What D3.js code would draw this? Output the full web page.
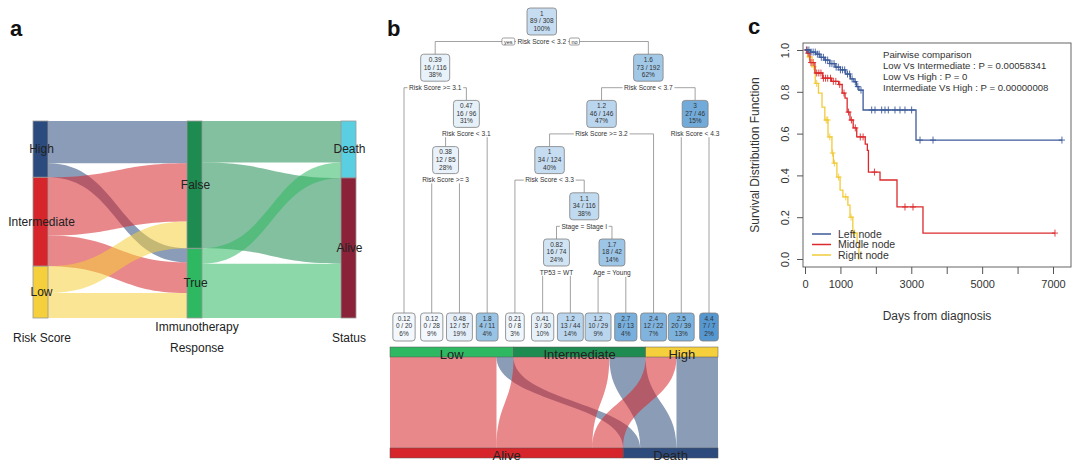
<!DOCTYPE html>
<html>
<head>
<meta charset="utf-8">
<script src="https://cdn.jsdelivr.net/npm/d3@7"></script>
<style>
  body { margin: 0; background: #fff; }
</style>
</head>
<body>
<script>
// ---------- data ----------
// panel a: alluvial Risk Score -> Immunotherapy Response -> Status
const riskLevels = ["High", "Intermediate", "Low"];
const responseLevels = ["False", "True"];
const statusLevels = ["Death", "Alive"];
const riskToResponse = [
  ["High", "False", 66], ["High", "True", 22],
  ["Intermediate", "False", 91], ["Intermediate", "True", 48],
  ["Low", "False", 42], ["Low", "True", 39]
];
const responseToStatus = [
  ["False", "Death", 65], ["False", "Alive", 134],
  ["True", "Death", 24], ["True", "Alive", 85]
];

// panel b: regression tree (id, parent, rate, events / n, percent, split)
const treeNodes = [
  { id: "1", parent: "", rate: "1", ratio: "89 / 308", pct: "100%", split: "Risk Score < 3.2" },
  { id: "2", parent: "1", rate: "0.39", ratio: "16 / 116", pct: "38%", split: "Risk Score >= 3.1" },
  { id: "4", parent: "2", rate: "0.12", ratio: "0 / 20", pct: "6%" },
  { id: "5", parent: "2", rate: "0.47", ratio: "16 / 96", pct: "31%", split: "Risk Score < 3.1" },
  { id: "10", parent: "5", rate: "0.38", ratio: "12 / 85", pct: "28%", split: "Risk Score >= 3" },
  { id: "20", parent: "10", rate: "0.12", ratio: "0 / 28", pct: "9%" },
  { id: "21", parent: "10", rate: "0.48", ratio: "12 / 57", pct: "19%" },
  { id: "11", parent: "5", rate: "1.8", ratio: "4 / 11", pct: "4%" },
  { id: "3", parent: "1", rate: "1.6", ratio: "73 / 192", pct: "62%", split: "Risk Score < 3.7" },
  { id: "6", parent: "3", rate: "1.2", ratio: "46 / 146", pct: "47%", split: "Risk Score >= 3.2" },
  { id: "12", parent: "6", rate: "1", ratio: "34 / 124", pct: "40%", split: "Risk Score < 3.3" },
  { id: "24", parent: "12", rate: "0.21", ratio: "0 / 8", pct: "3%" },
  { id: "25", parent: "12", rate: "1.1", ratio: "34 / 116", pct: "38%", split: "Stage = Stage I" },
  { id: "50", parent: "25", rate: "0.82", ratio: "16 / 74", pct: "24%", split: "TP53 = WT" },
  { id: "100", parent: "50", rate: "0.41", ratio: "3 / 30", pct: "10%" },
  { id: "101", parent: "50", rate: "1.2", ratio: "13 / 44", pct: "14%" },
  { id: "51", parent: "25", rate: "1.7", ratio: "18 / 42", pct: "14%", split: "Age = Young" },
  { id: "102", parent: "51", rate: "1.2", ratio: "10 / 29", pct: "9%" },
  { id: "103", parent: "51", rate: "2.7", ratio: "8 / 13", pct: "4%" },
  { id: "13", parent: "6", rate: "2.4", ratio: "12 / 22", pct: "7%" },
  { id: "7", parent: "3", rate: "3", ratio: "27 / 46", pct: "15%", split: "Risk Score < 4.3" },
  { id: "14", parent: "7", rate: "2.5", ratio: "20 / 39", pct: "13%" },
  { id: "15", parent: "7", rate: "4.4", ratio: "7 / 7", pct: "2%" }
];

// panel b bottom: leaf groups -> status
const groupLevels = ["Low", "Intermediate", "High"];
const groupStatusLevels = ["Alive", "Death"];
const groupToStatus = [
  ["Low", "Alive", 100], ["Low", "Death", 16],
  ["Intermediate", "Alive", 90], ["Intermediate", "Death", 34],
  ["High", "Alive", 29], ["High", "Death", 39]
];

// panel c: Kaplan-Meier curves (step times, survival), censor times
const leftTimes = [0, 150, 300, 420, 560, 700, 850, 1000, 1150, 1280, 1380, 1450, 1520, 1640, 3133];
const leftSurv = [1, 0.99, 0.98, 0.965, 0.952, 0.935, 0.918, 0.905, 0.885, 0.862, 0.848, 0.825, 0.808, 0.713, 0.569];
const leftEnd = 7253;
const leftCensor = [60, 110, 170, 230, 290, 350, 400, 460, 520, 580, 640, 700, 760, 820, 880, 940, 1000, 1060,
  1120, 1200, 1260, 1330, 1420, 1490, 1580, 1882, 1976, 2164, 2258, 2352, 2540, 2681, 2822, 3010, 3246, 3613, 7253];

const middleTimes = [0, 60, 140, 280, 500, 750, 950, 1050, 1130, 1190, 1270, 1360, 1460, 1700, 1760, 1790, 2117, 2597, 3330];
const middleSurv = [1, 0.985, 0.94, 0.89, 0.865, 0.85, 0.835, 0.794, 0.77, 0.703, 0.665, 0.627, 0.584, 0.55, 0.52, 0.416, 0.378, 0.249, 0.124];
const middleEnd = 7056;
const middleCensor = [40, 90, 170, 230, 330, 390, 450, 520, 580, 640, 720, 800, 870, 980, 1100, 1230, 1310,
  1420, 1560, 1640, 1960, 2822, 3048, 7056];

const rightTimes = [0, 80, 200, 290, 380, 480, 560, 650, 760, 800, 900, 990, 1070, 1210, 1270, 1350, 1470, 1520];
const rightSurv = [1, 0.967, 0.92, 0.84, 0.794, 0.727, 0.665, 0.584, 0.507, 0.459, 0.392, 0.33, 0.297, 0.258, 0.2, 0.124, 0.077, 0];
const rightEnd = 1530;
const rightCensor = [120, 250, 330, 600, 640, 700, 780, 830, 950, 1150, 1300, 1400];

const pairwiseText = [
  "Pairwise comparison",
  "Low Vs Intermediate : P = 0.00058341",
  "Low Vs High : P = 0",
  "Intermediate Vs High : P = 0.00000008"
];
const xTicks = [0, 1000, 2000, 3000, 4000, 5000, 6000, 7000];
const xTickLabels = [0, 1000, 3000, 5000, 7000];
const yTicks = [0, 0.2, 0.4, 0.6, 0.8, 1.0];

// ---------- colours ----------
const colors = {
  High: "#2b4b7e", Intermediate: "#d7262b", Low: "#f6d03c",
  False: "#1e8c50", True: "#2fb862", Death: "#5acfe1", Alive: "#8a2339"
};
const groupColors = { Low: "#2fb862", Intermediate: "#1e8c50", High: "#f6d03c", Alive: "#d7262b", Death: "#2c4a7c" };

const svg = d3.select("body").append("svg")
  .attr("width", 1080).attr("height", 476)
  .style("font-family", "'Liberation Sans', Arial, sans-serif");
svg.append("rect").attr("width", 1080).attr("height", 476).attr("fill", "#fff");

// panel letters
[["a", 10, 36], ["b", 387, 36], ["c", 748, 34]].forEach(p => {
  svg.append("text").attr("x", p[1]).attr("y", p[2]).text(p[0])
    .attr("font-size", 22).attr("font-weight", "bold").attr("fill", "#111");
});

// ---------- band layout helper ----------
function bandLayout(links, srcLevels, tgtLevels) {
  const res = links.map(l => ({ source: l[0], target: l[1], value: l[2] }));
  const totals = (levels, key) => {
    let acc = 0; const out = {};
    levels.forEach(l => {
      const v = d3.sum(res.filter(r => r[key] === l), r => r.value);
      out[l] = { v0: acc, v1: acc + v }; acc += v;
    });
    return out;
  };
  const src = totals(srcLevels, "source"), tgt = totals(tgtLevels, "target");
  const sOff = {}, tOff = {};
  srcLevels.forEach(l => sOff[l] = src[l].v0);
  tgtLevels.forEach(l => tOff[l] = tgt[l].v0);
  res.slice().sort((a, b) => srcLevels.indexOf(a.source) - srcLevels.indexOf(b.source) ||
    tgtLevels.indexOf(a.target) - tgtLevels.indexOf(b.target))
    .forEach(r => { r.s0 = sOff[r.source]; sOff[r.source] += r.value; r.s1 = sOff[r.source]; });
  res.slice().sort((a, b) => tgtLevels.indexOf(a.target) - tgtLevels.indexOf(b.target) ||
    srcLevels.indexOf(a.source) - srcLevels.indexOf(b.source))
    .forEach(r => { r.t0 = tOff[r.target]; tOff[r.target] += r.value; r.t1 = tOff[r.target]; });
  return { src, tgt, links: res };
}

// ---------- panel a ----------
const aY = d3.scaleLinear().domain([0, 308]).range([121, 318]);
const aCols = { risk: 33, response: 187, status: 341 };
const aW = 15;
const gA = svg.append("g");

function drawBandsH(lay, x0, x1, colorKey) {
  const xm = (x0 + x1) / 2;
  gA.selectAll(null).data(lay.links).enter().append("path")
    .attr("d", d => {
      const s0 = aY(d.s0), s1 = aY(d.s1), t0 = aY(d.t0), t1 = aY(d.t1);
      return `M${x0},${s0}C${xm},${s0} ${xm},${t0} ${x1},${t0}L${x1},${t1}C${xm},${t1} ${xm},${s1} ${x0},${s1}Z`;
    })
    .attr("fill", d => colors[d[colorKey]]).attr("fill-opacity", 0.55);
}
const lay1 = bandLayout(riskToResponse, riskLevels, responseLevels);
const lay2 = bandLayout(responseToStatus, responseLevels, statusLevels);
drawBandsH(lay1, aCols.risk + aW, aCols.response, "source");
drawBandsH(lay2, aCols.response + aW, aCols.status, "source");

function drawNodesA(nodes, x) {
  Object.entries(nodes).forEach(([name, n]) => {
    gA.append("rect").attr("x", x).attr("y", aY(n.v0)).attr("width", aW)
      .attr("height", aY(n.v1) - aY(n.v0))
      .attr("fill", colors[name]).attr("stroke", "#9a9a9a").attr("stroke-width", 0.8);
  });
  Object.entries(nodes).forEach(([name, n]) => {
    gA.append("text").attr("x", x + aW / 2 + 1).attr("y", (aY(n.v0) + aY(n.v1)) / 2 + 4)
      .attr("text-anchor", "middle").attr("font-size", 12).attr("fill", "#222").text(name);
  });
}
drawNodesA(lay1.src, aCols.risk);
drawNodesA(lay1.tgt, aCols.response);
drawNodesA(lay2.tgt, aCols.status);

[["Risk Score", 42, 342], ["Immunotherapy", 197, 331], ["Response", 197, 352], ["Status", 349, 342]].forEach(t => {
  gA.append("text").attr("x", t[1]).attr("y", t[2]).attr("text-anchor", "middle")
    .attr("font-size", 12).attr("fill", "#222").text(t[0]);
});

// ---------- panel b: tree ----------
const gB = svg.append("g");
const root = d3.stratify().id(d => d.id).parentId(d => d.parent || null)(treeNodes);
const leafX = d3.scalePoint().domain(root.leaves().map(d => d.id)).range([404, 709]);
const depthY = d3.scaleLinear().domain([0, 5]).range([8, 239]);
const leafTop = 313, nodeH = 27;
root.eachAfter(d => {
  d.x = d.children ? d3.mean(d.children, c => c.x) : leafX(d.id);
  d.y = d.children ? depthY(d.depth) : leafTop;
});
const nodeFill = d3.scaleLinear()
  .domain([0, 0.5, 1.2, 1.7, 2.5, 4.4])
  .range(["#f7fbff", "#e4eff9", "#bad6ee", "#9cc5e6", "#7cb2de", "#5597d0"]);
const lineCol = "#8a8a8a";

// branches
root.descendants().filter(d => d.children).forEach(d => {
  const ly = d.y + nodeH + 6.5;
  gB.append("path")
    .attr("d", `M${d.children[0].x},${d.children[0].y}V${ly}H${d.children[1].x}V${d.children[1].y}`)
    .attr("fill", "none").attr("stroke", lineCol).attr("stroke-width", 0.8);
});
// split labels
root.descendants().filter(d => d.children).forEach(d => {
  const ly = d.y + nodeH + 6.5;
  const t = gB.append("text").attr("x", d.x).attr("y", ly + 2.3).attr("text-anchor", "middle")
    .attr("font-size", 6.6).attr("fill", "#333").text(d.data.split);
  const bb = t.node().getBBox();
  gB.insert("rect", "text").attr("x", bb.x - 1.5).attr("y", bb.y).attr("width", bb.width + 3)
    .attr("height", bb.height).attr("fill", "#fff");
  if (d.depth === 0) {
    [["yes", bb.x - 3, "end"], ["no", bb.x + bb.width + 3, "start"]].forEach(yn => {
      const tt = gB.append("text").attr("x", yn[2] === "end" ? yn[1] - 2 : yn[1] + 2).attr("y", ly + 2)
        .attr("text-anchor", yn[2]).attr("font-size", 5.5).attr("fill", "#333").text(yn[0]);
      const b2 = tt.node().getBBox();
      gB.insert("rect", "text").attr("x", b2.x - 2).attr("y", b2.y - 0.5).attr("width", b2.width + 4)
        .attr("height", b2.height + 1).attr("rx", 1.5).attr("fill", "#fff")
        .attr("stroke", "#777").attr("stroke-width", 0.7);
    });
  }
});
// nodes
root.descendants().forEach(d => {
  const g = gB.append("g").attr("transform", `translate(${d.x},${d.y})`);
  const lines = [d.data.rate, d.data.ratio, d.data.pct];
  const texts = lines.map((s, i) => g.append("text").attr("x", 0).attr("y", 7.8 + i * 7.6)
    .attr("text-anchor", "middle").attr("font-size", 6.5).attr("fill", "#333").text(s));
  const w = d3.max(texts, t => t.node().getComputedTextLength()) + 6;
  g.insert("rect", "text").attr("x", -w / 2).attr("y", 0).attr("width", w).attr("height", nodeH + (d.children ? 0 : 1))
    .attr("rx", 3).attr("fill", nodeFill(+d.data.rate)).attr("stroke", "#7f7f7f").attr("stroke-width", 0.8);
});

// ---------- panel b: bottom alluvial ----------
const bX = d3.scaleLinear().domain([0, 308]).range([390, 718]);
const topBar = [347, 357], botBar = [448, 458];
const lay3 = bandLayout(groupToStatus, groupLevels, groupStatusLevels);
const ym = (topBar[1] + botBar[0]) / 2;
gB.selectAll(null).data(lay3.links).enter().append("path")
  .attr("d", d => {
    const s0 = bX(d.s0), s1 = bX(d.s1), t0 = bX(d.t0), t1 = bX(d.t1), y0 = topBar[1], y1 = botBar[0];
    return `M${s0},${y0}C${s0},${ym} ${t0},${ym} ${t0},${y1}L${t1},${y1}C${t1},${ym} ${s1},${ym} ${s1},${y0}Z`;
  })
  .attr("fill", d => groupColors[d.target]).attr("fill-opacity", 0.55);

function drawBar(nodes, yy) {
  Object.entries(nodes).forEach(([name, n]) => {
    gB.append("rect").attr("x", bX(n.v0)).attr("y", yy[0]).attr("width", bX(n.v1) - bX(n.v0))
      .attr("height", yy[1] - yy[0]).attr("fill", groupColors[name])
      .attr("stroke", "#555").attr("stroke-width", 0.5);
  });
  Object.entries(nodes).forEach(([name, n]) => {
    gB.append("text").attr("x", (bX(n.v0) + bX(n.v1)) / 2).attr("y", yy[1] + 1.5)
      .attr("text-anchor", "middle").attr("font-size", 13).attr("fill", "#222").text(name);
  });
}
drawBar(lay3.src, topBar);
drawBar(lay3.tgt, botBar);

// ---------- panel c: survival ----------
const gC = svg.append("g");
const cx = d3.scaleLinear().domain([0, 7000]).range([805, 1053]);
const cy = d3.scaleLinear().domain([0, 1]).range([259, 50]);
const box = { x0: 803, x1: 1071, y0: 43, y1: 267 };

const curves = [
  { name: "Left node", times: leftTimes, surv: leftSurv, end: leftEnd, censor: leftCensor, color: "#3c5a9a" },
  { name: "Middle node", times: middleTimes, surv: middleSurv, end: middleEnd, censor: middleCensor, color: "#dc2a2c" },
  { name: "Right node", times: rightTimes, surv: rightSurv, end: rightEnd, censor: rightCensor, color: "#f2cb3a" }
];
const step = d3.line().x(d => cx(d[0])).y(d => cy(d[1])).curve(d3.curveStepAfter);

curves.slice().reverse().forEach(c => {
  const pts = c.times.map((t, i) => [t, c.surv[i]]);
  pts.push([c.end, c.surv[c.surv.length - 1]]);
  gC.append("path").attr("d", step(pts)).attr("fill", "none")
    .attr("stroke", c.color).attr("stroke-width", 1.3);
  const survAt = t => c.surv[d3.bisectRight(c.times, t) - 1];
  gC.selectAll(null).data(c.censor).enter().append("path")
    .attr("d", t => { const x = cx(t), y = cy(survAt(t)); return `M${x - 3},${y}H${x + 3}M${x},${y - 3.5}V${y + 3.5}`; })
    .attr("stroke", c.color).attr("stroke-width", 0.9).attr("fill", "none");
});

gC.append("rect").attr("x", box.x0).attr("y", box.y0).attr("width", box.x1 - box.x0).attr("height", box.y1 - box.y0)
  .attr("fill", "none").attr("stroke", "#555").attr("stroke-width", 0.9);

const xAxis = gC.append("g").attr("transform", `translate(0,${box.y1})`)
  .call(d3.axisBottom(cx).tickValues(xTicks).tickSize(7).tickPadding(6)
    .tickFormat(d => xTickLabels.includes(d) ? d : ""));
const yAxis = gC.append("g").attr("transform", `translate(${box.x0},0)`)
  .call(d3.axisLeft(cy).tickValues(yTicks).tickSize(6).tickPadding(6).tickFormat(d3.format(".1f")));
[xAxis, yAxis].forEach(a => {
  a.select(".domain").remove();
  a.selectAll("line").attr("stroke", "#555");
  a.selectAll("text").attr("font-size", 11).attr("fill", "#333").style("font-family", "'Liberation Sans', Arial, sans-serif");
});
yAxis.selectAll("text").attr("transform", function () {
  return "rotate(-90)";
}).attr("x", 0).attr("dy", 0).attr("text-anchor", "middle")
  .attr("y", -14);
yAxis.selectAll(".tick text").each(function () { d3.select(this).attr("y", -14); });

gC.append("text").attr("transform", "translate(759,155) rotate(-90)").attr("text-anchor", "middle")
  .attr("font-size", 12).attr("fill", "#333").text("Survival Distribution Function");
gC.append("text").attr("x", 937).attr("y", 320).attr("text-anchor", "middle")
  .attr("font-size", 12).attr("fill", "#333").text("Days from diagnosis");

pairwiseText.forEach((s, i) => {
  gC.append("text").attr("x", 883).attr("y", 57.5 + i * 11).attr("font-size", 9.6).attr("fill", "#333").text(s);
});

curves.forEach((c, i) => {
  const y = 234 + i * 10.5;
  gC.append("line").attr("x1", 812).attr("x2", 831).attr("y1", y).attr("y2", y)
    .attr("stroke", c.color).attr("stroke-width", 1.5);
  gC.append("text").attr("x", 838).attr("y", y + 3.6).attr("font-size", 10.5).attr("fill", "#333").text(c.name);
});
</script>
</body>
</html>
